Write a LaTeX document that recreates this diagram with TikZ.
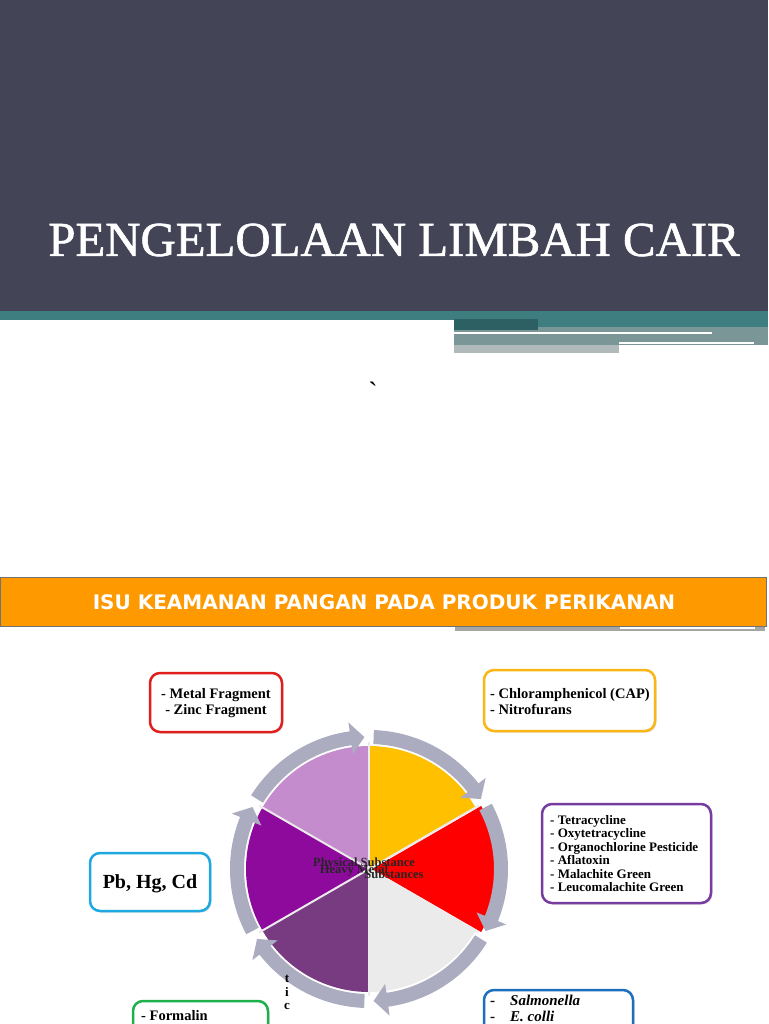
\documentclass[tikz,border=0pt]{standalone}
\usepackage{fontspec}
\setmainfont{Liberation Serif}
\newfontfamily\barfont{DejaVu Sans}
\newfontfamily\titlefont[FakeBold=1.2]{Liberation Serif}
\usetikzlibrary{shadows}
\definecolor{topdark}{RGB}{67,68,86}
\definecolor{tealA}{RGB}{62,126,128}
\definecolor{tealB}{RGB}{44,96,98}
\definecolor{tealgray}{RGB}{122,150,150}
\definecolor{stripegray}{RGB}{176,186,186}
\definecolor{barorange}{RGB}{255,153,0}
\definecolor{ringgray}{RGB}{172,172,192}
\definecolor{slYellow}{RGB}{255,192,0}
\definecolor{slRed}{RGB}{255,0,0}
\definecolor{slGray}{RGB}{235,235,235}
\definecolor{slDkPurple}{RGB}{120,58,128}
\definecolor{slPurple}{RGB}{142,10,156}
\definecolor{slLtPurple}{RGB}{196,140,204}
\definecolor{bxRed}{RGB}{225,30,30}
\definecolor{bxGold}{RGB}{250,182,20}
\definecolor{bxPurple}{RGB}{118,60,160}
\definecolor{bxCyan}{RGB}{30,168,225}
\definecolor{bxGreen}{RGB}{30,176,75}
\definecolor{bxBlue}{RGB}{30,110,190}
\tikzset{
  infobox/.style={draw=#1, line width=2.5pt, rounded corners=10pt, fill=white, inner sep=0pt,
    drop shadow={opacity=0.25, shadow xshift=1.5pt, shadow yshift=-1.5pt}},
  boxtext/.style={font=\bfseries\fontsize{14.5}{16}\selectfont, inner sep=0pt, text=black},
  listtext/.style={font=\bfseries\fontsize{13}{13.4}\selectfont, inner sep=0pt, text=black, align=left, anchor=west},
  centertext/.style={font=\bfseries\fontsize{12.5}{13}\selectfont, inner sep=0pt, text=black!85},
  vletter/.style={font=\bfseries\fontsize{13}{13}\selectfont, inner sep=0pt, text=black}
}
\begin{document}
\begin{tikzpicture}[x=1pt,y=-1pt]
\useasboundingbox (0,0) rectangle (768,1024);
\clip (0,0) rectangle (768,1024);
% header
\fill[topdark] (0,0) rectangle (768,312);
\fill[tealA] (0,311) rectangle (768,320);
\fill[tealgray] (454,320) rectangle (768,345);
\fill[tealA] (538,311) rectangle (768,327);
\fill[tealB] (454,319) rectangle (538,330);
\fill[stripegray] (454,345) rectangle (619,353);
\draw[white, line width=2pt] (454,333) -- (712,333);
\draw[white, line width=2pt] (619,343) -- (754,343);
\node[font=\titlefont\fontsize{48.8}{50}\selectfont, text=white, inner sep=0pt] (title) at (394,240) {PENGELOLAAN LIMBAH CAIR};
\node[font=\fontsize{28}{28}\selectfont, inner sep=0pt] (tick) at (373,392) {\textasciigrave};
% orange bar
\fill[gray!70] (455,626) rectangle (765,631);
\draw[white, line width=1.5pt] (620,628) -- (755,628);
\node[fill=barorange, draw=black!55, line width=0.8pt, minimum width=766pt, minimum height=49pt, inner sep=0pt, anchor=north west] (bar) at (0,577) {};
\node[font=\barfont\bfseries\fontsize{20}{22}\selectfont, text=white, inner sep=0pt] (bartitle) at (384,602.5) {ISU KEAMANAN PANGAN PADA PRODUK PERIKANAN};
% wheel
\begin{scope}[shift={(369,869)}, yscale=-1]
  \fill[slYellow] (0,0) -- (90:123) arc[start angle=90, end angle=30, radius=123] -- cycle;
  \fill[slRed, shift={(3,0)}] (0,0) -- (30:126) arc[start angle=30, end angle=-30, radius=126] -- cycle;
  \fill[slGray] (0,0) -- (-30:123) arc[start angle=-30, end angle=-90, radius=123] -- cycle;
  \fill[slDkPurple] (0,0) -- (-90:123) arc[start angle=-90, end angle=-150, radius=123] -- cycle;
  \fill[slPurple] (0,0) -- (-150:123) arc[start angle=-150, end angle=-210, radius=123] -- cycle;
  \fill[slLtPurple] (0,0) -- (150:123) arc[start angle=150, end angle=90, radius=123] -- cycle;
  \foreach \a in {90,30,-30,-90,-150,150}
    \draw[white!92!black, line width=2pt] (0,0) -- (\a:127);
  \foreach \s [evaluate=\s as \hb using \s-50, evaluate=\s as \tp using \s-56] in {148,88,28,-32,-92,-152}
    \fill[ringgray] (\s:125) arc[start angle=\s, end angle=\hb, radius=125] -- (\hb:116) -- (\tp:132)
      -- (\hb:148) -- (\hb:139) arc[start angle=\hb, end angle=\s, radius=139] -- cycle;
\end{scope}
\node[centertext] (c1) at (364,864) {Physical Substance};
\node[centertext] (c2) at (354,871) {Heavy Metal};
\node[centertext] (c3) at (394,874) {Substances};
\node[vletter] (v1) at (287,979) {t};
\node[vletter] (v2) at (287,992) {i};
\node[vletter] (v3) at (287,1006) {c};
% boxes
\node[infobox=bxRed, minimum width=132pt, minimum height=59pt] (bred) at (216,702.5) {};
\node[boxtext, align=center] (tred) at (216,703.5) {- Metal Fragment\\- Zinc Fragment};
\node[infobox=bxGold, minimum width=171pt, minimum height=61pt] (bgold) at (569.5,700.5) {};
\node[boxtext, align=left, anchor=west] (tgold) at (490,702) {- Chloramphenicol (CAP)\\- Nitrofurans};
\node[infobox=bxPurple, minimum width=169pt, minimum height=99pt] (bpurple) at (626.5,853.5) {};
\node[listtext] (tpurple) at (550,853.5) {- Tetracycline\\- Oxytetracycline\\- Organochlorine Pesticide\\- Aflatoxin\\- Malachite Green\\- Leucomalachite Green};
\node[infobox=bxCyan, minimum width=120pt, minimum height=58pt] (bcyan) at (150,882) {};
\node[font=\bfseries\fontsize{20}{22}\selectfont, inner sep=0pt] (tcyan) at (150,884) {Pb, Hg, Cd};
\node[infobox=bxGreen, minimum width=135pt, minimum height=44pt] (bgreen) at (200.5,1023) {};
\node[boxtext, anchor=west] (tgreen) at (141,1016) {- Formalin};
\node[infobox=bxBlue, minimum width=149pt, minimum height=54pt] (bblue) at (558.5,1017) {};
\node[boxtext, align=left, anchor=west, font=\bfseries\fontsize{15}{16}\selectfont] (tblue) at (490,1008.5) {\makebox[20pt][l]{-}\textit{Salmonella}\\\makebox[20pt][l]{-}\textit{E. colli}};
\end{tikzpicture}
\end{document}
